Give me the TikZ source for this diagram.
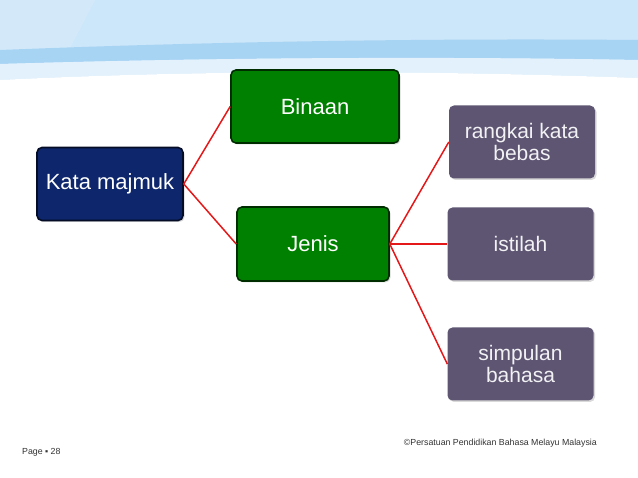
\documentclass[tikz,border=0pt]{standalone}
\usepackage{fontspec}
\setmainfont{Liberation Sans}
\usetikzlibrary{shadows}
\definecolor{navybox}{RGB}{14,38,108}
\definecolor{greenbox}{RGB}{0,128,0}
\definecolor{plumbox}{RGB}{94,85,114}
\definecolor{skytop}{RGB}{204,230,250}
\definecolor{skyband}{RGB}{168,212,244}
\definecolor{skypale}{RGB}{226,241,252}
\definecolor{linkred}{RGB}{228,24,24}
\definecolor{footgray}{RGB}{50,50,50}
\tikzset{
    topic/.style={rectangle, rounded corners=5pt, draw=#1!35!black, fill=#1, line width=1.6pt, text=white, align=center, inner sep=0pt, font=\fontsize{22}{23}\selectfont, drop shadow={opacity=0.3, shadow xshift=1.5pt, shadow yshift=-1.5pt}},
    leaf/.style={rectangle, rounded corners=5pt, fill=plumbox, text=white!92!plumbox, align=center, inner sep=0pt, font=\fontsize{21}{22}\selectfont, minimum width=146pt, minimum height=73pt, drop shadow={opacity=0.3, shadow xshift=1.5pt, shadow yshift=-1.5pt}},
    link/.style={draw=linkred, line width=1.5pt},
    foot/.style={text=footgray, inner sep=0pt, font=\fontsize{8.8}{10}\selectfont}
}

\begin{document}
\begin{tikzpicture}[x=1pt, y=-1pt]
    \useasboundingbox (0,0) rectangle (638,478);

    % Sky swoosh at the top
    \fill[skytop] (0,0) rectangle (638,82);
    \fill[white, opacity=0.15] (0,0) -- (95,0) -- (70,48) -- (0,52) -- cycle;
    \fill[skyband] (0,50) .. controls (200,42) and (420,38) .. (638,40)
        -- (638,60) .. controls (420,56) and (200,58) .. (0,64) -- cycle;
    \fill[skypale] (0,64) .. controls (200,58) and (420,56) .. (638,60)
        -- (638,78) .. controls (420,70) and (200,70) .. (0,80) -- cycle;
    \fill[white] (0,80) .. controls (200,70) and (420,70) .. (638,78)
        -- (638,92) -- (0,92) -- cycle;

    % Boxes
    \node[topic=navybox, minimum width=146pt, minimum height=73pt] (kata) at (110,184) {Kata majmuk};
    \node[topic=greenbox, minimum width=168pt, minimum height=73pt] (binaan) at (315,106.5) {Binaan};
    \node[topic=greenbox, minimum width=152pt, minimum height=74pt] (jenis) at (313,244) {Jenis};
    \node[leaf] (rangkai) at (522,142) {rangkai kata\\bebas};
    \node[leaf] (istilah) at (520.5,244) {istilah};
    \node[leaf] (simpulan) at (520.5,364) {simpulan\\bahasa};

    % Links
    \draw[link] (kata.east) -- (binaan.west);
    \draw[link] (kata.east) -- (jenis.west);
    \draw[link] (jenis.east) -- (rangkai.west);
    \draw[link] (jenis.east) -- (istilah.west);
    \draw[link] (jenis.east) -- (simpulan.west);

    % Footer
    \node[foot, anchor=west] (page) at (22,452) {Page ▪ 28};
    \node[foot, anchor=east] (copy) at (597,443) {©Persatuan Pendidikan Bahasa Melayu Malaysia};
\end{tikzpicture}
\end{document}
